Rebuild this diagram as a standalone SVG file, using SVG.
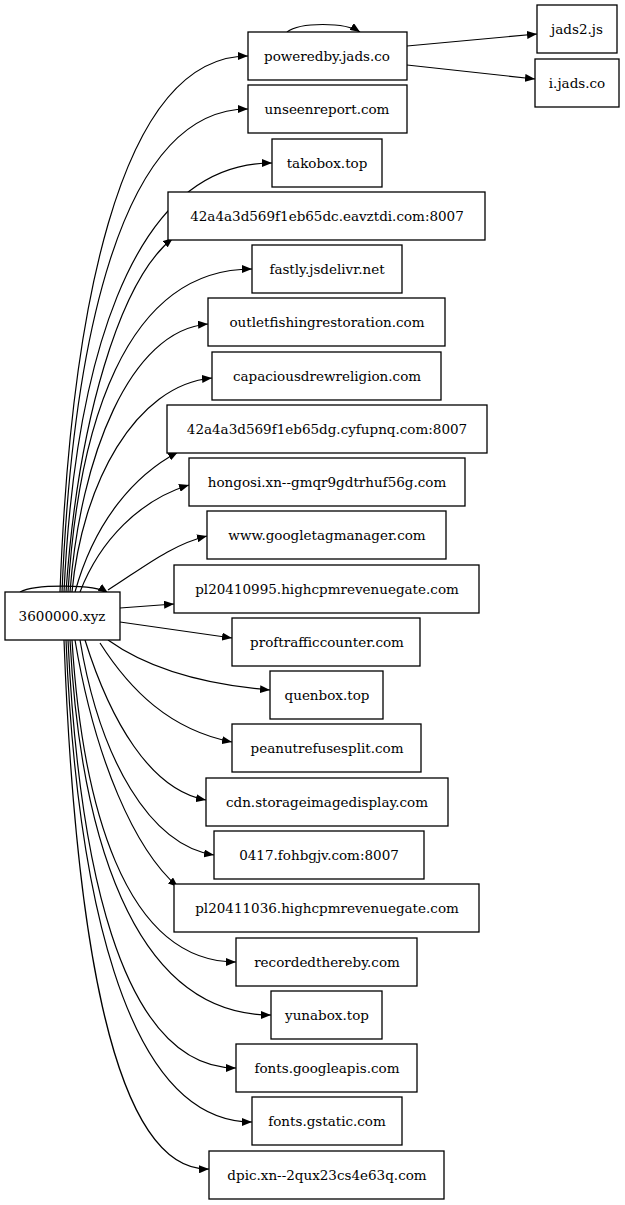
<svg xmlns="http://www.w3.org/2000/svg" width="625" height="1205" viewBox="0 0 625 1205">
<defs><marker id="a" viewBox="0 0 10 8" refX="10" refY="4" markerWidth="10" markerHeight="8" markerUnits="userSpaceOnUse" orient="auto"><path d="M0,0 L10,4 L0,8 Z" fill="#000"/></marker></defs>
<style>rect{fill:#fff;stroke:#000;stroke-width:1.3}text{font-family:"DejaVu Serif","Liberation Serif",serif;font-size:13.5px;text-anchor:middle;dominant-baseline:central}#e path{fill:none;stroke:#000;stroke-width:1.2;marker-end:url(#a)}</style>
<rect x="0" y="0" width="625" height="1205" style="fill:#fff;stroke:none"/>
<g id="e">
<path d="M287,32 C300,22 345,22 360,32"/>
<path d="M20,592 C35,584 95,584 108,593"/>
<path d="M407,46 L537,34"/>
<path d="M407,65 L535,79"/>
<path d="M60,592 C70,324 116,56 248,56"/>
<path d="M62,592 C72,351 118,109 248,109"/>
<path d="M64,592 C74,377 126,163 272,163"/>
<path d="M66,592 C78,420 120,280 173,238"/>
<path d="M68,592 C78,430 123,269 252,269"/>
<path d="M70,592 C80,457 130,330 208,324"/>
<path d="M72,592 C82,484 135,385 212,378"/>
<path d="M75,592 C95,520 135,475 178,452"/>
<path d="M80,592 C100,540 140,500 189,485"/>
<path d="M108,590 C140,570 170,545 207,536"/>
<path d="M120,608 L174,604"/>
<path d="M120,622 L232,638"/>
<path d="M108,640 C150,670 210,685 270,690"/>
<path d="M100,643 C130,690 170,730 232,742"/>
<path d="M85,640 C110,720 150,790 206,800"/>
<path d="M80,640 C100,760 150,845 214,855"/>
<path d="M75,640 C95,760 135,850 178,887"/>
<path d="M72,640 C82,801 123,962 236,962"/>
<path d="M70,640 C80,828 130,1015 271,1015"/>
<path d="M68,640 C78,854 118,1068 236,1068"/>
<path d="M66,640 C76,881 122,1122 252,1122"/>
<path d="M64,640 C74,908 108,1172 209,1169"/>
</g>
<g id="n0"><rect x="5" y="592" width="115" height="48"/><text x="62" y="616">3600000.xyz</text></g>
<g id="n1"><rect x="248" y="32" width="159" height="48"/><text x="327" y="56">poweredby.jads.co</text></g>
<g id="n2"><rect x="537" y="5" width="80" height="48"/><text x="577" y="29">jads2.js</text></g>
<g id="n3"><rect x="535" y="59" width="84" height="48"/><text x="577" y="83">i.jads.co</text></g>
<g id="n4"><rect x="248" y="85" width="159" height="48"/><text x="327" y="109">unseenreport.com</text></g>
<g id="n5"><rect x="272" y="139" width="110" height="48"/><text x="327" y="163">takobox.top</text></g>
<g id="n6"><rect x="168" y="192" width="317" height="48"/><text x="327" y="216">42a4a3d569f1eb65dc.eavztdi.com:8007</text></g>
<g id="n7"><rect x="252" y="245" width="150" height="48"/><text x="327" y="269">fastly.jsdelivr.net</text></g>
<g id="n8"><rect x="208" y="298" width="237" height="48"/><text x="327" y="322">outletfishingrestoration.com</text></g>
<g id="n9"><rect x="212" y="352" width="229" height="48"/><text x="327" y="376">capaciousdrewreligion.com</text></g>
<g id="n10"><rect x="167" y="405" width="320" height="48"/><text x="327" y="429">42a4a3d569f1eb65dg.cyfupnq.com:8007</text></g>
<g id="n11"><rect x="189" y="458" width="276" height="48"/><text x="327" y="482">hongosi.xn--gmqr9gdtrhuf56g.com</text></g>
<g id="n12"><rect x="207" y="511" width="239" height="48"/><text x="327" y="535">www.googletagmanager.com</text></g>
<g id="n13"><rect x="174" y="565" width="305" height="48"/><text x="327" y="589">pl20410995.highcpmrevenuegate.com</text></g>
<g id="n14"><rect x="232" y="618" width="188" height="48"/><text x="327" y="642">proftrafficcounter.com</text></g>
<g id="n15"><rect x="270" y="671" width="113" height="48"/><text x="327" y="695">quenbox.top</text></g>
<g id="n16"><rect x="232" y="724" width="189" height="48"/><text x="327" y="748">peanutrefusesplit.com</text></g>
<g id="n17"><rect x="206" y="778" width="242" height="48"/><text x="327" y="802">cdn.storageimagedisplay.com</text></g>
<g id="n18"><rect x="214" y="831" width="210" height="48"/><text x="319" y="855">0417.fohbgjv.com:8007</text></g>
<g id="n19"><rect x="174" y="884" width="305" height="48"/><text x="327" y="908">pl20411036.highcpmrevenuegate.com</text></g>
<g id="n20"><rect x="236" y="938" width="181" height="48"/><text x="327" y="962">recordedthereby.com</text></g>
<g id="n21"><rect x="271" y="991" width="111" height="48"/><text x="327" y="1015">yunabox.top</text></g>
<g id="n22"><rect x="236" y="1044" width="181" height="48"/><text x="327" y="1068">fonts.googleapis.com</text></g>
<g id="n23"><rect x="252" y="1097" width="150" height="48"/><text x="327" y="1121">fonts.gstatic.com</text></g>
<g id="n24"><rect x="209" y="1151" width="235" height="48"/><text x="327" y="1175">dpic.xn--2qux23cs4e63q.com</text></g>
</svg>
